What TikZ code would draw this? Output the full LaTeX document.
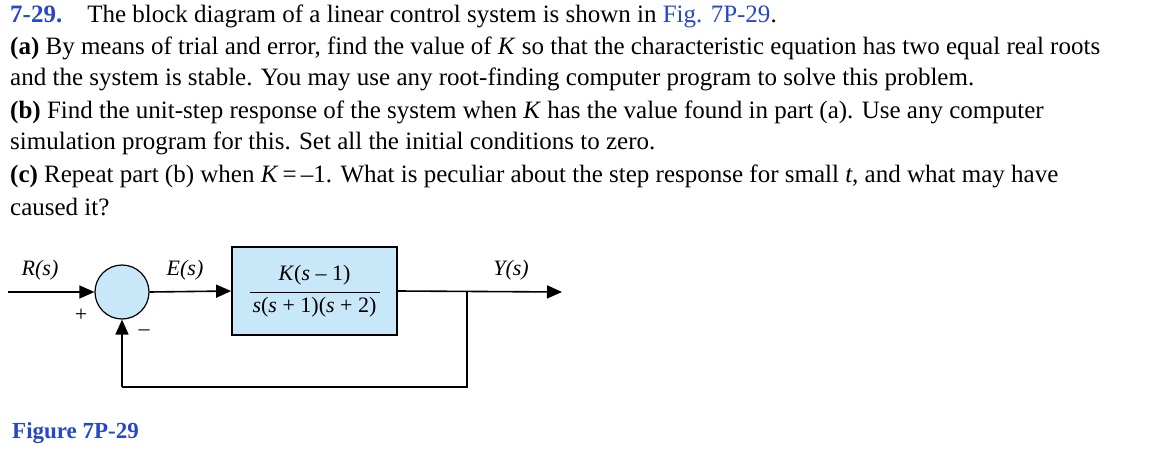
\documentclass[tikz,border=0pt]{standalone}
\usepackage{fontspec}
\setmainfont{Liberation Serif}
\usetikzlibrary{arrows.meta}
\definecolor{lnk}{RGB}{40,70,200}
\definecolor{boxfill}{RGB}{200,232,250}
\begin{document}
\begin{tikzpicture}[x=1pt,y=-1pt,
  txt/.style={anchor=west,inner sep=0pt,font=\fontsize{25}{30}\selectfont},
  lbl/.style={inner sep=0pt,font=\fontsize{22}{26}\selectfont\itshape},
  sig/.style={line width=1.6pt},
  arr/.style={sig,-{Triangle[length=15pt,width=13pt]}}]
\useasboundingbox (0,0) rectangle (1155,454);
\node[txt] (l1) at (10,16) {\textcolor{lnk}{\textbf{7-29.}}\quad The block diagram of a linear control system is shown in \textcolor{lnk}{Fig. 7P-29}.};
\node[txt] (l2) at (10,48) {\textbf{(a)}\ By means of trial and error, find the value of \textit{K} so that the characteristic equation has two equal real roots};
\node[txt] (l3) at (10,79) {and the system is stable. You may use any root-finding computer program to solve this problem.};
\node[txt] (l4) at (10,112) {\textbf{(b)}\ Find the unit-step response of the system when \textit{K} has the value found in part (a). Use any computer};
\node[txt] (l5) at (10,143) {simulation program for this. Set all the initial conditions to zero.};
\node[txt] (l6) at (10,176) {\textbf{(c)}\ Repeat part (b) when \textit{K}\,=\,–1. What is peculiar about the step response for small \textit{t}, and what may have};
\node[txt] (l7) at (10,207) {caused it?};
\node[txt,font=\fontsize{23}{27}\selectfont\bfseries,text=lnk] (fig) at (12,433) {Figure 7P-29};

\node[circle,draw,line width=1.2pt,fill=boxfill,minimum size=54pt,inner sep=0pt] (sum) at (122,292) {};
\node[draw,line width=1.8pt,fill=boxfill,minimum width=165pt,minimum height=88pt,inner sep=0pt,font=\fontsize{22}{26}\selectfont,align=center] (G) at (314.5,291)
  {\textit{K}(\textit{s} – 1)\\[-14pt]\rule{130pt}{0.7pt}\\[-6pt]\textit{s}(\textit{s} + 1)(\textit{s} + 2)};
\coordinate (in) at (8,292);
\coordinate (out) at (562,292);
\coordinate (tap) at (467,292);
\coordinate (bot) at (467,387);
\coordinate (botl) at (122,387);
\draw[arr] (in) -- (sum.west);
\draw[arr] (sum.east) -- (G.west);
\draw[arr] (G.east) -- (out);
\draw[sig] (tap) -- (bot) -- (botl);
\draw[arr] (botl) -- (sum.south);
\node[lbl] (R) at (40,270) {R(s)};
\node[lbl] (E) at (185,270) {E(s)};
\node[lbl] (Y) at (511,270) {Y(s)};
\node[lbl,font=\fontsize{22}{26}\selectfont] (p) at (81,315) {+};
\node[lbl,font=\fontsize{22}{26}\selectfont] (m) at (144,333) {–};
\end{tikzpicture}
\end{document}
